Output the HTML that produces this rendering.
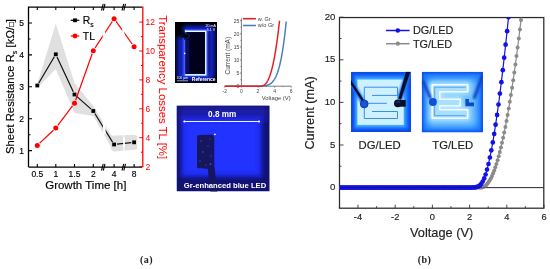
<!DOCTYPE html>
<html><head><meta charset="utf-8"><style>
html,body{margin:0;padding:0;background:#fff;}
svg{display:block;font-family:"Liberation Sans", Arial, sans-serif;}
</style></head><body>
<svg width="550" height="269" viewBox="0 0 550 269">
<defs>
<clipPath id="cpPlot"><rect x="339.6" y="17.4" width="204.4" height="190.8"/></clipPath>
<clipPath id="cpRef"><rect x="175" y="22" width="42" height="61"/></clipPath>
<clipPath id="cpGr"><rect x="176.5" y="105.4" width="93.2" height="86.1"/></clipPath>
<clipPath id="cpDG"><rect x="350.9" y="71.8" width="60.3" height="60.3"/></clipPath>
<clipPath id="cpTG"><rect x="421.7" y="71.7" width="61.3" height="60.8"/></clipPath>
<filter id="b05" x="-20%" y="-20%" width="140%" height="140%"><feGaussianBlur stdDeviation="0.5"/></filter>
<filter id="b15" x="-20%" y="-20%" width="140%" height="140%"><feGaussianBlur stdDeviation="1.5"/></filter>
<filter id="b1" x="-20%" y="-20%" width="140%" height="140%"><feGaussianBlur stdDeviation="1"/></filter>
<filter id="b2" x="-20%" y="-20%" width="140%" height="140%"><feGaussianBlur stdDeviation="2"/></filter>
<filter id="b3" x="-30%" y="-30%" width="160%" height="160%"><feGaussianBlur stdDeviation="3"/></filter>
<radialGradient id="glow1" cx="0.5" cy="0.5" r="0.6">
<stop offset="0.55" stop-color="#1f3cff"/><stop offset="0.8" stop-color="#0a14c0"/><stop offset="1" stop-color="#000"/>
</radialGradient>
<linearGradient id="blue2" x1="0" y1="0" x2="0" y2="1">
<stop offset="0" stop-color="#1e28c8"/><stop offset="0.15" stop-color="#1e2cf0"/><stop offset="1" stop-color="#1a26ee"/>
</linearGradient>
<radialGradient id="tg" cx="0.5" cy="0.5" r="0.6">
<stop offset="0" stop-color="#a8dcff"/><stop offset="0.6" stop-color="#6ab8ff"/><stop offset="1" stop-color="#2a8cff"/>
</radialGradient>
</defs>
<g clip-path="url(#cpRef)">
<rect x="175" y="22" width="42" height="61" fill="#000"/>
<path d="M183.5,29 H209 Q211.5,29 211.5,33 V74 Q211.5,77 208,77 H183 Q180.5,77 180.5,74 V37" fill="none" stroke="#1428d8" stroke-width="6" filter="url(#b2)"/>
<path d="M184.5,30 H207.3 V75.6 H183.4 V38" fill="none" stroke="#2a40ff" stroke-width="2" filter="url(#b05)"/>
<path d="M186,32.3 H205.3 V74 H185.6 V40" fill="#03031c" filter="url(#b05)"/>
<rect x="185.5" y="40" width="4" height="33" fill="#0a0a60" filter="url(#b1)"/>
<path d="M184.6,33 Q188,33 189.5,36 Q188.5,39 185,39.5" fill="#000" stroke="#2040ff" stroke-width="0.6" filter="url(#b05)"/>
<path d="M185.3,31.3 H205.8 V74.8 H184.7" fill="none" stroke="#e8fcff" stroke-width="1.5"/>
<path d="M185,75 H205.5" stroke="#a8e8ff" stroke-width="1"/>
<path d="M184.7,40 V74.8" stroke="#4868ff" stroke-width="1.2"/>
<circle cx="185.8" cy="31.3" r="1.1" fill="#a0ffff"/>
<circle cx="184.7" cy="53.4" r="0.8" fill="#e0f0ff"/>
<text x="215.8" y="27.1" text-anchor="end" font-size="3.6" fill="#fff">20 mA</text>
<text x="215.2" y="31.1" text-anchor="end" font-size="3.6" fill="#fff">5.1 V</text>
<text x="176.6" y="79.4" font-size="3.4" fill="#fff">100 µm</text>
<path d="M176.8,80.8 H188" stroke="#fff" stroke-width="0.6"/>
<text x="215.5" y="81.3" text-anchor="end" font-size="4.9" font-weight="bold" fill="#fff">Reference</text>
</g>
<g clip-path="url(#cpGr)">
<rect x="176.5" y="105.4" width="93.2" height="86.1" fill="#121274"/>
<rect x="179" y="107" width="88" height="14" fill="#1a1aa8" filter="url(#b3)"/>
<rect x="181" y="117" width="81" height="60" fill="#1e2ae8" filter="url(#b2)"/>
<rect x="185" y="121" width="73" height="52" fill="#2232ff" filter="url(#b2)"/>
<path d="M197,137 Q197,135 199,135 L212,134.8 Q214.2,135 214.2,137 L214.2,167 L211,169 L209.5,169 L197,168 Z" fill="#16165e" filter="url(#b05)"/>
<g fill="#2a2ab0" opacity="0.8" filter="url(#b05)"><circle cx="201" cy="141" r="1.2"/><circle cx="208" cy="146" r="1"/><circle cx="203" cy="152" r="1.3"/><circle cx="211" cy="156" r="1"/><circle cx="200" cy="161" r="1.1"/><circle cx="206" cy="165" r="1"/><circle cx="210" cy="139" r="0.9"/></g>
<path d="M207.5,167 L214.5,167 L217.5,192 L210.5,192 Z" fill="#161660" filter="url(#b05)"/>
<circle cx="210.5" cy="164.2" r="0.9" fill="#3a4aff"/>
<path d="M184.2,121.5 H259" stroke="#f4f4ff" stroke-width="1"/>
<circle cx="184.4" cy="121.5" r="1.1" fill="#fff"/>
<circle cx="259" cy="121.5" r="1.1" fill="#fff"/>
<circle cx="214.9" cy="134.3" r="0.9" fill="#fff"/>
<text x="222.2" y="116.8" text-anchor="middle" font-size="8.2" font-weight="bold" fill="#fff">0.8 mm</text>
<text x="225" y="188" text-anchor="middle" font-size="7.65" font-weight="bold" fill="#fff">Gr-enhanced blue LED</text>
</g>
<g clip-path="url(#cpDG)">
<rect x="350.9" y="71.8" width="60.3" height="60.3" fill="#0c4ae8"/>
<rect x="353.9" y="74.8" width="54.3" height="54.3" fill="#1a78ff" filter="url(#b1)"/>
<rect x="355.9" y="77.8" width="49.3" height="48.8" fill="#48b4ff" filter="url(#b1)"/>
<rect x="357.4" y="79.6" width="46.3" height="45.3" fill="#cdf1ff" filter="url(#b05)"/>
<path d="M397.5,95.4 V87.2 H364.3 V118.5 H397.5 V111.5 M372.0,95.4 H397.5 M367.9,103.3 H386.9 M372.0,111.5 H397.5" fill="none" stroke="#3a8cf0" stroke-width="1"/>
<path d="M350.9,81.8 L362.9,101.8" stroke="#1a6cf0" stroke-width="5" filter="url(#b1)"/>
<path d="M350.9,79.8 L350.9,84.3 L362.4,101.8 L363.9,100.3 Z" fill="#061030" filter="url(#b05)"/>
<path d="M408.9,71.8 L399.4,99.8" stroke="#1a6cf0" stroke-width="6" filter="url(#b1)"/>
<path d="M405.9,71.8 L410.4,71.8 L400.9,99.8 L398.4,98.8 Z" fill="#061030" filter="url(#b05)"/>
<circle cx="364.2" cy="103.9" r="3.9" fill="#1458d8" stroke="#0a2a80" stroke-width="0.8"/>
<circle cx="397.79999999999995" cy="103.4" r="3.8" fill="#081028"/>
<rect x="397.4" y="100.0" width="8.3" height="6.7" fill="#081028"/>
<path d="M396.4,102.8 q2,-2.5 4,0" fill="none" stroke="#1a5ad8" stroke-width="0.8"/>
</g>
<g clip-path="url(#cpTG)">
<rect x="421.7" y="71.7" width="61.3" height="60.8" fill="#0c50f0"/>
<rect x="423.7" y="73.7" width="57.3" height="56.8" fill="#1a7cff" filter="url(#b1)"/>
<rect x="428.7" y="79.7" width="47.3" height="45.8" fill="#58b4ff" filter="url(#b3)"/>
<rect x="427.7" y="80.7" width="47.3" height="44.8" fill="#6cc0ff" filter="url(#b3)"/>
<polygon points="432.2,84.7 467.7,84.7 467.7,91.7 439.7,91.7 439.7,99.2 460.2,99.2 460.2,105.7 439.7,105.7 439.7,109.7 467.7,109.7 467.7,118.2 432.2,118.2" fill="none" stroke="#b8e6ff" stroke-width="5" stroke-linejoin="round" filter="url(#b2)"/>
<polygon points="432.2,84.7 467.7,84.7 467.7,91.7 439.7,91.7 439.7,99.2 460.2,99.2 460.2,105.7 439.7,105.7 439.7,109.7 467.7,109.7 467.7,118.2 432.2,118.2" fill="#a8e0ff" stroke="#f4feff" stroke-width="1.6" stroke-linejoin="round" filter="url(#b05)"/>
<path d="M465.7,87.2 H434.7 V115.7 H465.7" fill="none" stroke="#4a9cf0" stroke-width="0.9" filter="url(#b05)"/>
<path d="M422.7,80.7 L430.7,98.7" stroke="#1040c0" stroke-width="3" filter="url(#b1)"/>
<path d="M483.0,74.7 L474.0,98.7" stroke="#1040c0" stroke-width="3" filter="url(#b1)"/>
<circle cx="432.9" cy="102.1" r="4" fill="#1050d8"/>
<path d="M465.4,99.0 h3.5 v3.5 h5.1 v3.8 h-8.6 z" fill="#1048c8"/>
</g>
<polygon points="37.3,84.0 55.8,23.5 74.5,83.0 93.3,106.0 110.5,134.0 112.5,135.8 134.5,134.8 137.3,136.0 137.3,149.6 134.5,149.8 114.0,151.6 111.5,150.0 110.5,146.0 93.3,116.0 74.5,113.0 55.8,69.0 37.3,88.0" fill="#e0e0e0"/>
<polygon points="103,118 104.6,118 105.2,134 103.6,134" fill="#fff"/>
<polygon points="123.4,130 124.5,130 124.5,155 123.4,155" fill="#fff"/>
<path d="M38.78,83.03 L54.32,56.76 M57.02,56.89 L73.28,91.83 M76.67,96.37 L91.13,109.13 M94.83,113.51 L112.57,142.08 M116.98,144.22 L131.22,142.63" fill="none" stroke="#111" stroke-width="1.2"/>
<path d="M39.71,143.10 L53.39,130.28 M57.79,125.39 L72.51,105.94 M75.61,100.20 L92.19,53.82 M95.10,47.95 L112.30,21.54 M116.02,21.46 L132.18,43.98" fill="none" stroke="#f00" stroke-width="1.2"/>
<polygon points="102.6,120 105,120 105.8,134 103.4,134" fill="#fff"/>
<polygon points="123.1,138 124.9,138 124.9,147 123.1,147" fill="#fff"/>
<polygon points="102.4,26 104.9,26 105.4,40 102.9,40" fill="#fff"/>
<polygon points="122,24 124.2,24 124.6,38 122.4,38" fill="#fff"/>
<rect x="35.4" y="83.6" width="3.8" height="3.8" fill="#000"/>
<rect x="53.9" y="52.4" width="3.8" height="3.8" fill="#000"/>
<rect x="72.6" y="92.6" width="3.8" height="3.8" fill="#000"/>
<rect x="91.4" y="109.1" width="3.8" height="3.8" fill="#000"/>
<rect x="112.2" y="142.6" width="3.8" height="3.8" fill="#000"/>
<rect x="132.2" y="140.4" width="3.8" height="3.8" fill="#000"/>
<circle cx="37.3" cy="145.4" r="2.5" fill="#f00"/>
<circle cx="55.8" cy="128.0" r="2.5" fill="#f00"/>
<circle cx="74.5" cy="103.3" r="2.5" fill="#f00"/>
<circle cx="93.3" cy="50.7" r="2.5" fill="#f00"/>
<circle cx="114.1" cy="18.8" r="2.5" fill="#f00"/>
<circle cx="134.1" cy="46.7" r="2.5" fill="#f00"/>
<path d="M28.5,167.1 V7.1 H142.3 M28.5,167.1 H142.3" fill="none" stroke="#000" stroke-width="1.3"/>
<path d="M142.8,6.5 V167.1" stroke="#f00" stroke-width="1.3"/>
<path d="M37.3,167.1 v-3 M37.3,7.1 v3 M55.8,167.1 v-3 M55.8,7.1 v3 M74.5,167.1 v-3 M74.5,7.1 v3 M93.3,167.1 v-3 M93.3,7.1 v3 M114.1,167.1 v-3 M114.1,7.1 v3 M134.1,167.1 v-3 M134.1,7.1 v3" stroke="#000" stroke-width="1.1"/>
<path d="M28.5,150.6 h3.5 M28.5,134.7 h2 M28.5,118.7 h3.5 M28.5,102.8 h2 M28.5,86.8 h3.5 M28.5,70.8 h2 M28.5,54.9 h3.5 M28.5,39.0 h2 M28.5,23.0 h3.5" stroke="#000" stroke-width="1.1"/>
<path d="M142.8,166.6 h-3.5 M142.8,152.2 h-2 M142.8,137.7 h-3.5 M142.8,123.2 h-2 M142.8,108.8 h-3.5 M142.8,94.3 h-2 M142.8,79.9 h-3.5 M142.8,65.5 h-2 M142.8,51.0 h-3.5 M142.8,36.6 h-2 M142.8,22.1 h-3.5" stroke="#f00" stroke-width="1"/>
<path d="M101.5,10.5 l1.7,-6.6 M103.3,10.5 l1.7,-6.6" stroke="#000" stroke-width="1.1"/>
<path d="M101.5,170.5 l1.7,-6.6 M103.3,170.5 l1.7,-6.6" stroke="#000" stroke-width="1.1"/>
<path d="M122.0,10.5 l1.7,-6.6 M123.8,10.5 l1.7,-6.6" stroke="#000" stroke-width="1.1"/>
<path d="M122.0,170.5 l1.7,-6.6 M123.8,170.5 l1.7,-6.6" stroke="#000" stroke-width="1.1"/>
<text x="24" y="153.6" text-anchor="end" font-size="8.5" stroke="#000" stroke-width="0.15">1</text>
<text x="24" y="121.7" text-anchor="end" font-size="8.5" stroke="#000" stroke-width="0.15">2</text>
<text x="24" y="89.8" text-anchor="end" font-size="8.5" stroke="#000" stroke-width="0.15">3</text>
<text x="24" y="57.9" text-anchor="end" font-size="8.5" stroke="#000" stroke-width="0.15">4</text>
<text x="24" y="26.0" text-anchor="end" font-size="8.5" stroke="#000" stroke-width="0.15">5</text>
<text x="145.5" y="169.6" font-size="8.5" fill="#f00">2</text>
<text x="145.5" y="140.7" font-size="8.5" fill="#f00">4</text>
<text x="145.5" y="111.8" font-size="8.5" fill="#f00">6</text>
<text x="145.5" y="82.9" font-size="8.5" fill="#f00">8</text>
<text x="145.5" y="54.0" font-size="8.5" fill="#f00">10</text>
<text x="145.5" y="25.1" font-size="8.5" fill="#f00">12</text>
<text x="37.3" y="177.3" text-anchor="middle" font-size="8.5" stroke="#000" stroke-width="0.15">0.5</text>
<text x="55.8" y="177.3" text-anchor="middle" font-size="8.5" stroke="#000" stroke-width="0.15">1</text>
<text x="74.5" y="177.3" text-anchor="middle" font-size="8.5" stroke="#000" stroke-width="0.15">1.5</text>
<text x="93.3" y="177.3" text-anchor="middle" font-size="8.5" stroke="#000" stroke-width="0.15">2</text>
<text x="114.1" y="177.3" text-anchor="middle" font-size="8.5" stroke="#000" stroke-width="0.15">4</text>
<text x="134.1" y="177.3" text-anchor="middle" font-size="8.5" stroke="#000" stroke-width="0.15">8</text>
<text x="85.8" y="188.5" text-anchor="middle" font-size="11.5" stroke="#000" stroke-width="0.15">Growth Time [h]</text>
<text transform="translate(14.3,86.5) rotate(-90)" text-anchor="middle" font-size="11.3" stroke="#000" stroke-width="0.15">Sheet Resistance R<tspan font-size="7.2" dy="2.6">s</tspan><tspan dy="-2.6"> [kΩ/<tspan font-size="8">□</tspan>]</tspan></text>
<text transform="translate(159.4,87.2) rotate(90)" text-anchor="middle" font-size="11.4" fill="#f00">Transparency Losses TL [%]</text>
<path d="M70.7,20.3 H79.3" stroke="#000" stroke-width="1.2"/><rect x="73.1" y="18.4" width="3.8" height="3.8"/>
<text x="82.8" y="24" font-size="10.4" stroke="#000" stroke-width="0.15">R<tspan font-size="6.8" dy="2.6">s</tspan></text>
<path d="M70.7,36 H79.3" stroke="#f00" stroke-width="1.2"/><circle cx="75" cy="36" r="2.4" fill="#f00"/>
<text x="82.8" y="39.8" font-size="10.4" stroke="#000" stroke-width="0.15">TL</text>
<path d="M224.8,86.2 H291.2 M241.4,86.2 V18.3" stroke="#444" stroke-width="0.7" fill="none"/>
<path d="M241.4,86.2 h-1.5 M241.4,73.1 h-1.5 M241.4,60.0 h-1.5 M241.4,46.9 h-1.5 M241.4,33.8 h-1.5 M241.4,20.7 h-1.5 M241.4,79.7 h-0.9 M241.4,66.5 h-0.9 M241.4,53.5 h-0.9 M241.4,40.4 h-0.9 M241.4,27.2 h-0.9 M224.8,86.2 v1.5 M241.4,86.2 v1.5 M258.0,86.2 v1.5 M274.6,86.2 v1.5 M291.2,86.2 v1.5 M233.1,86.2 v0.9 M249.7,86.2 v0.9 M266.3,86.2 v0.9 M282.9,86.2 v0.9" stroke="#444" stroke-width="0.6"/>
<text x="239.2" y="88.0" text-anchor="end" font-size="5" fill="#444">0</text>
<text x="239.2" y="74.9" text-anchor="end" font-size="5" fill="#444">5</text>
<text x="239.2" y="61.8" text-anchor="end" font-size="5" fill="#444">10</text>
<text x="239.2" y="48.7" text-anchor="end" font-size="5" fill="#444">15</text>
<text x="239.2" y="35.6" text-anchor="end" font-size="5" fill="#444">20</text>
<text x="239.2" y="22.5" text-anchor="end" font-size="5" fill="#444">25</text>
<text x="224.8" y="92.5" text-anchor="middle" font-size="5" fill="#444">-2</text>
<text x="241.4" y="92.5" text-anchor="middle" font-size="5" fill="#444">0</text>
<text x="258.0" y="92.5" text-anchor="middle" font-size="5" fill="#444">2</text>
<text x="274.6" y="92.5" text-anchor="middle" font-size="5" fill="#444">4</text>
<text x="291.2" y="92.5" text-anchor="middle" font-size="5" fill="#444">6</text>
<text x="276.2" y="100.3" text-anchor="middle" font-size="5.85" fill="#444">Voltage (V)</text>
<text transform="translate(229.7,55.7) rotate(-90)" text-anchor="middle" font-size="6.5" fill="#444">Current (mA)</text>
<polyline points="224.80,86.20 224.97,86.20 225.13,86.20 225.30,86.20 225.47,86.20 225.63,86.20 225.80,86.20 225.96,86.20 226.13,86.20 226.30,86.20 226.46,86.20 226.63,86.20 226.80,86.20 226.96,86.20 227.13,86.20 227.30,86.20 227.46,86.20 227.63,86.20 227.80,86.20 227.96,86.20 228.13,86.20 228.29,86.20 228.46,86.20 228.63,86.20 228.79,86.20 228.96,86.20 229.13,86.20 229.29,86.20 229.46,86.20 229.63,86.20 229.79,86.20 229.96,86.20 230.13,86.20 230.29,86.20 230.46,86.20 230.62,86.20 230.79,86.20 230.96,86.20 231.12,86.20 231.29,86.20 231.46,86.20 231.62,86.20 231.79,86.20 231.96,86.20 232.12,86.20 232.29,86.20 232.46,86.20 232.62,86.20 232.79,86.20 232.95,86.20 233.12,86.20 233.29,86.20 233.45,86.20 233.62,86.20 233.79,86.20 233.95,86.20 234.12,86.20 234.29,86.20 234.45,86.20 234.62,86.20 234.78,86.20 234.95,86.20 235.12,86.20 235.28,86.20 235.45,86.20 235.62,86.20 235.78,86.20 235.95,86.20 236.12,86.20 236.28,86.20 236.45,86.20 236.62,86.20 236.78,86.20 236.95,86.20 237.11,86.20 237.28,86.20 237.45,86.20 237.61,86.20 237.78,86.20 237.95,86.20 238.11,86.20 238.28,86.20 238.45,86.20 238.61,86.20 238.78,86.20 238.95,86.20 239.11,86.20 239.28,86.20 239.44,86.20 239.61,86.20 239.78,86.20 239.94,86.20 240.11,86.20 240.28,86.20 240.44,86.20 240.61,86.20 240.78,86.20 240.94,86.20 241.11,86.20 241.28,86.20 241.44,86.20 241.61,86.20 241.77,86.20 241.94,86.20 242.11,86.20 242.27,86.20 242.44,86.20 242.61,86.20 242.77,86.20 242.94,86.20 243.11,86.20 243.27,86.20 243.44,86.20 243.61,86.20 243.77,86.20 243.94,86.20 244.10,86.20 244.27,86.20 244.44,86.20 244.60,86.20 244.77,86.20 244.94,86.20 245.10,86.20 245.27,86.20 245.44,86.20 245.60,86.20 245.77,86.20 245.93,86.20 246.10,86.20 246.27,86.20 246.43,86.20 246.60,86.20 246.77,86.20 246.93,86.20 247.10,86.20 247.27,86.20 247.43,86.20 247.60,86.20 247.77,86.20 247.93,86.20 248.10,86.20 248.26,86.20 248.43,86.20 248.60,86.20 248.76,86.20 248.93,86.20 249.10,86.20 249.26,86.20 249.43,86.20 249.60,86.20 249.76,86.20 249.93,86.20 250.10,86.20 250.26,86.20 250.43,86.20 250.59,86.20 250.76,86.20 250.93,86.20 251.09,86.20 251.26,86.20 251.43,86.20 251.59,86.20 251.76,86.20 251.93,86.20 252.09,86.20 252.26,86.20 252.43,86.20 252.59,86.20 252.76,86.20 252.92,86.20 253.09,86.20 253.26,86.20 253.42,86.20 253.59,86.20 253.76,86.20 253.92,86.20 254.09,86.20 254.26,86.20 254.42,86.20 254.59,86.20 254.75,86.20 254.92,86.20 255.09,86.20 255.25,86.20 255.42,86.20 255.59,86.20 255.75,86.20 255.92,86.20 256.09,86.20 256.25,86.20 256.42,86.20 256.59,86.20 256.75,86.20 256.92,86.20 257.08,86.19 257.25,86.19 257.42,86.19 257.58,86.19 257.75,86.19 257.92,86.19 258.08,86.19 258.25,86.19 258.42,86.19 258.58,86.18 258.75,86.18 258.92,86.18 259.08,86.18 259.25,86.17 259.41,86.17 259.58,86.17 259.75,86.17 259.91,86.16 260.08,86.16 260.25,86.15 260.41,86.15 260.58,86.14 260.75,86.14 260.91,86.13 261.08,86.13 261.25,86.12 261.41,86.11 261.58,86.10 261.74,86.10 261.91,86.09 262.08,86.08 262.24,86.07 262.41,86.06 262.58,86.05 262.74,86.03 262.91,86.02 263.08,86.01 263.24,85.99 263.41,85.98 263.57,85.96 263.74,85.94 263.91,85.93 264.07,85.91 264.24,85.89 264.41,85.86 264.57,85.84 264.74,85.82 264.91,85.79 265.07,85.76 265.24,85.73 265.41,85.70 265.57,85.67 265.74,85.64 265.90,85.60 266.07,85.57 266.24,85.53 266.40,85.49 266.57,85.45 266.74,85.40 266.90,85.36 267.07,85.31 267.24,85.26 267.40,85.20 267.57,85.15 267.74,85.09 267.90,85.03 268.07,84.96 268.23,84.90 268.40,84.83 268.57,84.75 268.73,84.68 268.90,84.60 269.07,84.52 269.23,84.43 269.40,84.34 269.57,84.25 269.73,84.15 269.90,84.05 270.07,83.95 270.23,83.84 270.40,83.72 270.56,83.61 270.73,83.48 270.90,83.36 271.06,83.23 271.23,83.09 271.40,82.95 271.56,82.80 271.73,82.65 271.90,82.49 272.06,82.33 272.23,82.16 272.39,81.98 272.56,81.80 272.73,81.61 272.89,81.42 273.06,81.21 273.23,81.00 273.39,80.79 273.56,80.57 273.73,80.34 273.89,80.10 274.06,79.85 274.23,79.60 274.39,79.33 274.56,79.06 274.72,78.78 274.89,78.49 275.06,78.20 275.22,77.89 275.39,77.57 275.56,77.25 275.72,76.91 275.89,76.56 276.06,76.20 276.22,75.83 276.39,75.46 276.56,75.06 276.72,74.66 276.89,74.25 277.05,73.82 277.22,73.38 277.39,72.93 277.55,72.46 277.72,71.99 277.89,71.49 278.05,70.99 278.22,70.47 278.39,69.93 278.55,69.38 278.72,68.82 278.89,68.24 279.05,67.64 279.22,67.03 279.38,66.40 279.55,65.76 279.72,65.10 279.88,64.42 280.05,63.72 280.22,63.00 280.38,62.27 280.55,61.51 280.72,60.74 280.88,59.95 281.05,59.14 281.22,58.30 281.38,57.45 281.55,56.57 281.71,55.68 281.88,54.76 282.05,53.81 282.21,52.85 282.38,51.86 282.55,50.85 282.71,49.81 282.88,48.75 283.05,47.66 283.21,46.54 283.38,45.40 283.54,44.24 283.71,43.04 283.88,41.82 284.04,40.57 284.21,39.29 284.38,37.99 284.54,36.65 284.71,35.28 284.88,33.88 285.04,32.45 285.21,30.99 285.38,29.49 285.54,27.97 285.71,26.40 285.87,24.81 286.04,23.18 286.21,21.51" fill="none" stroke="#4a7fc0" stroke-width="1.5"/>
<polyline points="224.80,86.20 224.97,86.20 225.13,86.20 225.30,86.20 225.47,86.20 225.63,86.20 225.80,86.20 225.96,86.20 226.13,86.20 226.30,86.20 226.46,86.20 226.63,86.20 226.80,86.20 226.96,86.20 227.13,86.20 227.30,86.20 227.46,86.20 227.63,86.20 227.80,86.20 227.96,86.20 228.13,86.20 228.29,86.20 228.46,86.20 228.63,86.20 228.79,86.20 228.96,86.20 229.13,86.20 229.29,86.20 229.46,86.20 229.63,86.20 229.79,86.20 229.96,86.20 230.13,86.20 230.29,86.20 230.46,86.20 230.62,86.20 230.79,86.20 230.96,86.20 231.12,86.20 231.29,86.20 231.46,86.20 231.62,86.20 231.79,86.20 231.96,86.20 232.12,86.20 232.29,86.20 232.46,86.20 232.62,86.20 232.79,86.20 232.95,86.20 233.12,86.20 233.29,86.20 233.45,86.20 233.62,86.20 233.79,86.20 233.95,86.20 234.12,86.20 234.29,86.20 234.45,86.20 234.62,86.20 234.78,86.20 234.95,86.20 235.12,86.20 235.28,86.20 235.45,86.20 235.62,86.20 235.78,86.20 235.95,86.20 236.12,86.20 236.28,86.20 236.45,86.20 236.62,86.20 236.78,86.20 236.95,86.20 237.11,86.20 237.28,86.20 237.45,86.20 237.61,86.20 237.78,86.20 237.95,86.20 238.11,86.20 238.28,86.20 238.45,86.20 238.61,86.20 238.78,86.20 238.95,86.20 239.11,86.20 239.28,86.20 239.44,86.20 239.61,86.20 239.78,86.20 239.94,86.20 240.11,86.20 240.28,86.20 240.44,86.20 240.61,86.20 240.78,86.20 240.94,86.20 241.11,86.20 241.28,86.20 241.44,86.20 241.61,86.20 241.77,86.20 241.94,86.20 242.11,86.20 242.27,86.20 242.44,86.20 242.61,86.20 242.77,86.20 242.94,86.20 243.11,86.20 243.27,86.20 243.44,86.20 243.61,86.20 243.77,86.20 243.94,86.20 244.10,86.20 244.27,86.20 244.44,86.20 244.60,86.20 244.77,86.20 244.94,86.20 245.10,86.20 245.27,86.20 245.44,86.20 245.60,86.20 245.77,86.20 245.93,86.20 246.10,86.20 246.27,86.20 246.43,86.20 246.60,86.20 246.77,86.20 246.93,86.20 247.10,86.20 247.27,86.20 247.43,86.20 247.60,86.20 247.77,86.20 247.93,86.20 248.10,86.20 248.26,86.20 248.43,86.20 248.60,86.20 248.76,86.20 248.93,86.20 249.10,86.20 249.26,86.20 249.43,86.20 249.60,86.20 249.76,86.20 249.93,86.20 250.10,86.20 250.26,86.20 250.43,86.20 250.59,86.20 250.76,86.20 250.93,86.20 251.09,86.20 251.26,86.20 251.43,86.20 251.59,86.20 251.76,86.20 251.93,86.20 252.09,86.20 252.26,86.20 252.43,86.20 252.59,86.20 252.76,86.20 252.92,86.20 253.09,86.20 253.26,86.20 253.42,86.20 253.59,86.20 253.76,86.20 253.92,86.20 254.09,86.20 254.26,86.20 254.42,86.20 254.59,86.20 254.75,86.20 254.92,86.20 255.09,86.20 255.25,86.20 255.42,86.20 255.59,86.20 255.75,86.20 255.92,86.20 256.09,86.20 256.25,86.20 256.42,86.20 256.59,86.20 256.75,86.20 256.92,86.20 257.08,86.20 257.25,86.20 257.42,86.20 257.58,86.20 257.75,86.20 257.92,86.20 258.08,86.20 258.25,86.20 258.42,86.20 258.58,86.20 258.75,86.20 258.92,86.20 259.08,86.20 259.25,86.20 259.41,86.20 259.58,86.20 259.75,86.20 259.91,86.20 260.08,86.19 260.25,86.19 260.41,86.18 260.58,86.17 260.75,86.16 260.91,86.15 261.08,86.13 261.25,86.11 261.41,86.09 261.58,86.06 261.74,86.03 261.91,86.00 262.08,85.96 262.24,85.91 262.41,85.86 262.58,85.81 262.74,85.75 262.91,85.69 263.08,85.62 263.24,85.54 263.41,85.46 263.57,85.38 263.74,85.28 263.91,85.18 264.07,85.07 264.24,84.96 264.41,84.84 264.57,84.71 264.74,84.57 264.91,84.43 265.07,84.28 265.24,84.11 265.41,83.95 265.57,83.77 265.74,83.58 265.90,83.39 266.07,83.18 266.24,82.97 266.40,82.75 266.57,82.51 266.74,82.27 266.90,82.02 267.07,81.76 267.24,81.48 267.40,81.20 267.57,80.91 267.74,80.60 267.90,80.29 268.07,79.96 268.23,79.62 268.40,79.27 268.57,78.91 268.73,78.53 268.90,78.15 269.07,77.75 269.23,77.34 269.40,76.91 269.57,76.48 269.73,76.03 269.90,75.56 270.07,75.09 270.23,74.60 270.40,74.10 270.56,73.58 270.73,73.05 270.90,72.50 271.06,71.94 271.23,71.37 271.40,70.78 271.56,70.18 271.73,69.56 271.90,68.93 272.06,68.28 272.23,67.62 272.39,66.94 272.56,66.24 272.73,65.53 272.89,64.80 273.06,64.06 273.23,63.30 273.39,62.52 273.56,61.73 273.73,60.92 273.89,60.09 274.06,59.25 274.23,58.39 274.39,57.51 274.56,56.61 274.72,55.70 274.89,54.77 275.06,53.81 275.22,52.85 275.39,51.86 275.56,50.85 275.72,49.83 275.89,48.78 276.06,47.72 276.22,46.64 276.39,45.54 276.56,44.42 276.72,43.28 276.89,42.12 277.05,40.94 277.22,39.74 277.39,38.52 277.55,37.28 277.72,36.02 277.89,34.73 278.05,33.43 278.22,32.11 278.39,30.76 278.55,29.40 278.72,28.01 278.89,26.60 279.05,25.17 279.22,23.71 279.38,22.24 279.55,20.74" fill="none" stroke="#e2222a" stroke-width="1.5"/>
<path d="M243,18.7 H256" stroke="#e2222a" stroke-width="1.6"/><path d="M243,25.5 H256" stroke="#4a7fc0" stroke-width="1.6"/>
<text x="257.8" y="20.6" font-size="5.5" fill="#444">w. Gr</text>
<text x="257.8" y="27.4" font-size="5.5" fill="#444">w/o Gr</text>
<rect x="339.5" y="17.55" width="204.29999999999995" height="190.64999999999998" fill="none" stroke="#2a2a2a" stroke-width="1.25"/>
<path d="M339.5,187.6 H543.8" stroke="#333" stroke-width="0.9"/>
<path d="M358.0,208.2 v-3.5 M395.2,208.2 v-3.5 M432.4,208.2 v-3.5 M469.6,208.2 v-3.5 M506.8,208.2 v-3.5 M544.0,208.2 v-3.5 M339.4,208.2 v-2 M376.6,208.2 v-2 M413.8,208.2 v-2 M451.0,208.2 v-2 M488.2,208.2 v-2 M525.4,208.2 v-2 M339.5,187.6 h4 M339.5,145.0 h4 M339.5,102.4 h4 M339.5,59.8 h4 M339.5,17.2 h4 M339.5,166.3 h2 M339.5,123.7 h2 M339.5,81.1 h2 M339.5,38.5 h2" stroke="#333" stroke-width="0.9"/>
<text x="335.3" y="190.1" text-anchor="end" font-size="9.6" fill="#222" stroke="#222" stroke-width="0.15">0</text>
<text x="335.3" y="147.5" text-anchor="end" font-size="9.6" fill="#222" stroke="#222" stroke-width="0.15">5</text>
<text x="335.3" y="104.9" text-anchor="end" font-size="9.6" fill="#222" stroke="#222" stroke-width="0.15">10</text>
<text x="335.3" y="62.3" text-anchor="end" font-size="9.6" fill="#222" stroke="#222" stroke-width="0.15">15</text>
<text x="335.3" y="19.7" text-anchor="end" font-size="9.6" fill="#222" stroke="#222" stroke-width="0.15">20</text>
<text x="358.0" y="220.2" text-anchor="middle" font-size="9.3" fill="#222" stroke="#222" stroke-width="0.15">-4</text>
<text x="395.2" y="220.2" text-anchor="middle" font-size="9.3" fill="#222" stroke="#222" stroke-width="0.15">-2</text>
<text x="432.4" y="220.2" text-anchor="middle" font-size="9.3" fill="#222" stroke="#222" stroke-width="0.15">0</text>
<text x="469.6" y="220.2" text-anchor="middle" font-size="9.3" fill="#222" stroke="#222" stroke-width="0.15">2</text>
<text x="506.8" y="220.2" text-anchor="middle" font-size="9.3" fill="#222" stroke="#222" stroke-width="0.15">4</text>
<text x="544.0" y="220.2" text-anchor="middle" font-size="9.3" fill="#222" stroke="#222" stroke-width="0.15">6</text>
<text x="441.6" y="237" text-anchor="middle" font-size="12.8" fill="#222" stroke="#222" stroke-width="0.15">Voltage (V)</text>
<text transform="translate(313.9,112.9) rotate(-90)" text-anchor="middle" font-size="12.7" fill="#222" stroke="#222" stroke-width="0.15">Current (mA)</text>
<g clip-path="url(#cpPlot)">
<polyline points="340.20,187.60 341.31,187.60 342.43,187.60 343.55,187.60 344.66,187.60 345.78,187.60 346.89,187.60 348.01,187.60 349.13,187.60 350.24,187.60 351.36,187.60 352.47,187.60 353.59,187.60 354.71,187.60 355.82,187.60 356.94,187.60 358.05,187.60 359.17,187.60 360.29,187.60 361.40,187.60 362.52,187.60 363.63,187.60 364.75,187.60 365.87,187.60 366.98,187.60 368.10,187.60 369.21,187.60 370.33,187.60 371.45,187.60 372.56,187.60 373.68,187.60 374.79,187.60 375.91,187.60 377.03,187.60 378.14,187.60 379.26,187.60 380.37,187.60 381.49,187.60 382.61,187.60 383.72,187.60 384.84,187.60 385.95,187.60 387.07,187.60 388.19,187.60 389.30,187.60 390.42,187.60 391.53,187.60 392.65,187.60 393.77,187.60 394.88,187.60 396.00,187.60 397.11,187.60 398.23,187.60 399.35,187.60 400.46,187.60 401.58,187.60 402.69,187.60 403.81,187.60 404.93,187.60 406.04,187.60 407.16,187.60 408.27,187.60 409.39,187.60 410.51,187.60 411.62,187.60 412.74,187.60 413.85,187.60 414.97,187.60 416.09,187.60 417.20,187.60 418.32,187.60 419.43,187.60 420.55,187.60 421.67,187.60 422.78,187.60 423.90,187.60 425.01,187.60 426.13,187.60 427.25,187.60 428.36,187.60 429.48,187.60 430.59,187.60 431.71,187.60 432.83,187.60 433.94,187.60 435.06,187.60 436.17,187.60 437.29,187.60 438.41,187.60 439.52,187.60 440.64,187.60 441.75,187.60 442.87,187.60 443.99,187.60 445.10,187.60 446.22,187.60 447.33,187.60 448.45,187.60 449.57,187.60 450.68,187.60 451.80,187.60 452.91,187.60 454.03,187.60 455.15,187.60 456.26,187.60 457.38,187.60 458.49,187.60 459.61,187.60 460.73,187.60 461.84,187.60 462.96,187.60 464.07,187.60 465.19,187.60 466.31,187.60 467.42,187.60 468.54,187.60 469.65,187.60 470.77,187.60 471.89,187.60 473.00,187.60 474.12,187.60 475.23,187.60 476.35,187.60 477.47,187.60 478.58,187.59 479.70,187.58 480.81,187.52 481.93,187.39 483.05,187.11 484.16,186.62 485.28,185.89 486.39,184.89 487.51,183.63 488.63,182.09 489.74,180.29 490.86,178.22 491.97,175.88 493.09,173.27 494.21,170.40 495.32,167.26 496.44,163.85 497.55,160.17 498.67,156.23 499.79,152.01 500.90,147.52 502.02,142.77 503.13,137.74 504.25,132.43 505.37,126.86 506.48,121.01 507.60,114.89 508.71,108.50 509.83,101.83 510.95,94.89 512.06,87.67 513.18,80.18 514.29,72.41 515.41,64.37 516.53,56.05 517.64,47.46 518.76,38.59 519.87,29.44 520.99,20.01 522.11,10.31" fill="none" stroke="#8a8a8a" stroke-width="1.2"/>
<g fill="#8a8a8a"><circle cx="340.2" cy="187.6" r="2.0"/><circle cx="341.3" cy="187.6" r="2.0"/><circle cx="342.4" cy="187.6" r="2.0"/><circle cx="343.5" cy="187.6" r="2.0"/><circle cx="344.7" cy="187.6" r="2.0"/><circle cx="345.8" cy="187.6" r="2.0"/><circle cx="346.9" cy="187.6" r="2.0"/><circle cx="348.0" cy="187.6" r="2.0"/><circle cx="349.1" cy="187.6" r="2.0"/><circle cx="350.2" cy="187.6" r="2.0"/><circle cx="351.4" cy="187.6" r="2.0"/><circle cx="352.5" cy="187.6" r="2.0"/><circle cx="353.6" cy="187.6" r="2.0"/><circle cx="354.7" cy="187.6" r="2.0"/><circle cx="355.8" cy="187.6" r="2.0"/><circle cx="356.9" cy="187.6" r="2.0"/><circle cx="358.1" cy="187.6" r="2.0"/><circle cx="359.2" cy="187.6" r="2.0"/><circle cx="360.3" cy="187.6" r="2.0"/><circle cx="361.4" cy="187.6" r="2.0"/><circle cx="362.5" cy="187.6" r="2.0"/><circle cx="363.6" cy="187.6" r="2.0"/><circle cx="364.7" cy="187.6" r="2.0"/><circle cx="365.9" cy="187.6" r="2.0"/><circle cx="367.0" cy="187.6" r="2.0"/><circle cx="368.1" cy="187.6" r="2.0"/><circle cx="369.2" cy="187.6" r="2.0"/><circle cx="370.3" cy="187.6" r="2.0"/><circle cx="371.4" cy="187.6" r="2.0"/><circle cx="372.6" cy="187.6" r="2.0"/><circle cx="373.7" cy="187.6" r="2.0"/><circle cx="374.8" cy="187.6" r="2.0"/><circle cx="375.9" cy="187.6" r="2.0"/><circle cx="377.0" cy="187.6" r="2.0"/><circle cx="378.1" cy="187.6" r="2.0"/><circle cx="379.3" cy="187.6" r="2.0"/><circle cx="380.4" cy="187.6" r="2.0"/><circle cx="381.5" cy="187.6" r="2.0"/><circle cx="382.6" cy="187.6" r="2.0"/><circle cx="383.7" cy="187.6" r="2.0"/><circle cx="384.8" cy="187.6" r="2.0"/><circle cx="386.0" cy="187.6" r="2.0"/><circle cx="387.1" cy="187.6" r="2.0"/><circle cx="388.2" cy="187.6" r="2.0"/><circle cx="389.3" cy="187.6" r="2.0"/><circle cx="390.4" cy="187.6" r="2.0"/><circle cx="391.5" cy="187.6" r="2.0"/><circle cx="392.6" cy="187.6" r="2.0"/><circle cx="393.8" cy="187.6" r="2.0"/><circle cx="394.9" cy="187.6" r="2.0"/><circle cx="396.0" cy="187.6" r="2.0"/><circle cx="397.1" cy="187.6" r="2.0"/><circle cx="398.2" cy="187.6" r="2.0"/><circle cx="399.3" cy="187.6" r="2.0"/><circle cx="400.5" cy="187.6" r="2.0"/><circle cx="401.6" cy="187.6" r="2.0"/><circle cx="402.7" cy="187.6" r="2.0"/><circle cx="403.8" cy="187.6" r="2.0"/><circle cx="404.9" cy="187.6" r="2.0"/><circle cx="406.0" cy="187.6" r="2.0"/><circle cx="407.2" cy="187.6" r="2.0"/><circle cx="408.3" cy="187.6" r="2.0"/><circle cx="409.4" cy="187.6" r="2.0"/><circle cx="410.5" cy="187.6" r="2.0"/><circle cx="411.6" cy="187.6" r="2.0"/><circle cx="412.7" cy="187.6" r="2.0"/><circle cx="413.9" cy="187.6" r="2.0"/><circle cx="415.0" cy="187.6" r="2.0"/><circle cx="416.1" cy="187.6" r="2.0"/><circle cx="417.2" cy="187.6" r="2.0"/><circle cx="418.3" cy="187.6" r="2.0"/><circle cx="419.4" cy="187.6" r="2.0"/><circle cx="420.5" cy="187.6" r="2.0"/><circle cx="421.7" cy="187.6" r="2.0"/><circle cx="422.8" cy="187.6" r="2.0"/><circle cx="423.9" cy="187.6" r="2.0"/><circle cx="425.0" cy="187.6" r="2.0"/><circle cx="426.1" cy="187.6" r="2.0"/><circle cx="427.2" cy="187.6" r="2.0"/><circle cx="428.4" cy="187.6" r="2.0"/><circle cx="429.5" cy="187.6" r="2.0"/><circle cx="430.6" cy="187.6" r="2.0"/><circle cx="431.7" cy="187.6" r="2.0"/><circle cx="432.8" cy="187.6" r="2.0"/><circle cx="433.9" cy="187.6" r="2.0"/><circle cx="435.1" cy="187.6" r="2.0"/><circle cx="436.2" cy="187.6" r="2.0"/><circle cx="437.3" cy="187.6" r="2.0"/><circle cx="438.4" cy="187.6" r="2.0"/><circle cx="439.5" cy="187.6" r="2.0"/><circle cx="440.6" cy="187.6" r="2.0"/><circle cx="441.8" cy="187.6" r="2.0"/><circle cx="442.9" cy="187.6" r="2.0"/><circle cx="444.0" cy="187.6" r="2.0"/><circle cx="445.1" cy="187.6" r="2.0"/><circle cx="446.2" cy="187.6" r="2.0"/><circle cx="447.3" cy="187.6" r="2.0"/><circle cx="448.4" cy="187.6" r="2.0"/><circle cx="449.6" cy="187.6" r="2.0"/><circle cx="450.7" cy="187.6" r="2.0"/><circle cx="451.8" cy="187.6" r="2.0"/><circle cx="452.9" cy="187.6" r="2.0"/><circle cx="454.0" cy="187.6" r="2.0"/><circle cx="455.1" cy="187.6" r="2.0"/><circle cx="456.3" cy="187.6" r="2.0"/><circle cx="457.4" cy="187.6" r="2.0"/><circle cx="458.5" cy="187.6" r="2.0"/><circle cx="459.6" cy="187.6" r="2.0"/><circle cx="460.7" cy="187.6" r="2.0"/><circle cx="461.8" cy="187.6" r="2.0"/><circle cx="463.0" cy="187.6" r="2.0"/><circle cx="464.1" cy="187.6" r="2.0"/><circle cx="465.2" cy="187.6" r="2.0"/><circle cx="466.3" cy="187.6" r="2.0"/><circle cx="467.4" cy="187.6" r="2.0"/><circle cx="468.5" cy="187.6" r="2.0"/><circle cx="469.7" cy="187.6" r="2.0"/><circle cx="470.8" cy="187.6" r="2.0"/><circle cx="471.9" cy="187.6" r="2.0"/><circle cx="473.0" cy="187.6" r="2.0"/><circle cx="474.1" cy="187.6" r="2.0"/><circle cx="475.2" cy="187.6" r="2.0"/><circle cx="476.3" cy="187.6" r="2.0"/><circle cx="477.5" cy="187.6" r="2.0"/><circle cx="478.6" cy="187.6" r="2.0"/><circle cx="479.7" cy="187.6" r="2.0"/><circle cx="480.8" cy="187.5" r="2.0"/><circle cx="481.9" cy="187.4" r="2.0"/><circle cx="483.0" cy="187.1" r="2.0"/><circle cx="484.2" cy="186.6" r="2.0"/><circle cx="485.3" cy="185.9" r="2.0"/><circle cx="486.4" cy="184.9" r="2.0"/><circle cx="487.5" cy="183.6" r="2.0"/><circle cx="488.6" cy="182.1" r="2.0"/><circle cx="489.7" cy="180.3" r="2.0"/><circle cx="490.9" cy="178.2" r="2.0"/><circle cx="492.0" cy="175.9" r="2.0"/><circle cx="493.1" cy="173.3" r="2.0"/><circle cx="494.2" cy="170.4" r="2.0"/><circle cx="495.3" cy="167.3" r="2.0"/><circle cx="496.4" cy="163.9" r="2.0"/><circle cx="497.6" cy="160.2" r="2.0"/><circle cx="498.7" cy="156.2" r="2.0"/><circle cx="499.8" cy="152.0" r="2.0"/><circle cx="500.9" cy="147.5" r="2.0"/><circle cx="502.0" cy="142.8" r="2.0"/><circle cx="503.1" cy="137.7" r="2.0"/><circle cx="504.2" cy="132.4" r="2.0"/><circle cx="505.4" cy="126.9" r="2.0"/><circle cx="506.5" cy="121.0" r="2.0"/><circle cx="507.6" cy="114.9" r="2.0"/><circle cx="508.7" cy="108.5" r="2.0"/><circle cx="509.8" cy="101.8" r="2.0"/><circle cx="510.9" cy="94.9" r="2.0"/><circle cx="512.1" cy="87.7" r="2.0"/><circle cx="513.2" cy="80.2" r="2.0"/><circle cx="514.3" cy="72.4" r="2.0"/><circle cx="515.4" cy="64.4" r="2.0"/><circle cx="516.5" cy="56.1" r="2.0"/><circle cx="517.6" cy="47.5" r="2.0"/><circle cx="518.8" cy="38.6" r="2.0"/><circle cx="519.9" cy="29.4" r="2.0"/><circle cx="521.0" cy="20.0" r="2.0"/><circle cx="522.1" cy="10.3" r="2.0"/></g>
<polyline points="339.51,187.60 340.94,187.60 342.38,187.60 343.81,187.60 345.24,187.60 346.67,187.60 348.10,187.60 349.54,187.60 350.97,187.60 352.40,187.60 353.83,187.60 355.27,187.60 356.70,187.60 358.13,187.60 359.56,187.60 360.99,187.60 362.43,187.60 363.86,187.60 365.29,187.60 366.72,187.60 368.16,187.60 369.59,187.60 371.02,187.60 372.45,187.60 373.88,187.60 375.32,187.60 376.75,187.60 378.18,187.60 379.61,187.60 381.05,187.60 382.48,187.60 383.91,187.60 385.34,187.60 386.77,187.60 388.21,187.60 389.64,187.60 391.07,187.60 392.50,187.60 393.94,187.60 395.37,187.60 396.80,187.60 398.23,187.60 399.66,187.60 401.10,187.60 402.53,187.60 403.96,187.60 405.39,187.60 406.83,187.60 408.26,187.60 409.69,187.60 411.12,187.60 412.55,187.60 413.99,187.60 415.42,187.60 416.85,187.60 418.28,187.60 419.71,187.60 421.15,187.60 422.58,187.60 424.01,187.60 425.44,187.60 426.88,187.60 428.31,187.60 429.74,187.60 431.17,187.60 432.60,187.60 434.04,187.60 435.47,187.60 436.90,187.60 438.33,187.60 439.77,187.60 441.20,187.60 442.63,187.60 444.06,187.60 445.49,187.60 446.93,187.60 448.36,187.60 449.79,187.60 451.22,187.60 452.66,187.60 454.09,187.60 455.52,187.60 456.95,187.60 458.38,187.60 459.82,187.60 461.25,187.60 462.68,187.60 464.11,187.60 465.55,187.60 466.98,187.60 468.41,187.59 469.84,187.58 471.27,187.56 472.71,187.52 474.14,187.43 475.57,187.26 477.00,186.94 478.44,186.35 479.87,185.36 481.30,183.80 482.73,181.52 484.16,178.43 485.60,174.46 487.03,169.63 488.46,163.97 489.89,157.52 491.32,150.32 492.76,142.42 494.19,133.87 495.62,124.69 497.05,114.90 498.49,104.54 499.92,93.63 501.35,82.17 502.78,70.18 504.21,57.68 505.65,44.68 507.08,31.18 508.51,17.20 509.94,2.74" fill="none" stroke="#1212e6" stroke-width="1.2"/>
<g fill="#1212e6"><circle cx="339.5" cy="187.6" r="2.35"/><circle cx="340.9" cy="187.6" r="2.35"/><circle cx="342.4" cy="187.6" r="2.35"/><circle cx="343.8" cy="187.6" r="2.35"/><circle cx="345.2" cy="187.6" r="2.35"/><circle cx="346.7" cy="187.6" r="2.35"/><circle cx="348.1" cy="187.6" r="2.35"/><circle cx="349.5" cy="187.6" r="2.35"/><circle cx="351.0" cy="187.6" r="2.35"/><circle cx="352.4" cy="187.6" r="2.35"/><circle cx="353.8" cy="187.6" r="2.35"/><circle cx="355.3" cy="187.6" r="2.35"/><circle cx="356.7" cy="187.6" r="2.35"/><circle cx="358.1" cy="187.6" r="2.35"/><circle cx="359.6" cy="187.6" r="2.35"/><circle cx="361.0" cy="187.6" r="2.35"/><circle cx="362.4" cy="187.6" r="2.35"/><circle cx="363.9" cy="187.6" r="2.35"/><circle cx="365.3" cy="187.6" r="2.35"/><circle cx="366.7" cy="187.6" r="2.35"/><circle cx="368.2" cy="187.6" r="2.35"/><circle cx="369.6" cy="187.6" r="2.35"/><circle cx="371.0" cy="187.6" r="2.35"/><circle cx="372.5" cy="187.6" r="2.35"/><circle cx="373.9" cy="187.6" r="2.35"/><circle cx="375.3" cy="187.6" r="2.35"/><circle cx="376.7" cy="187.6" r="2.35"/><circle cx="378.2" cy="187.6" r="2.35"/><circle cx="379.6" cy="187.6" r="2.35"/><circle cx="381.0" cy="187.6" r="2.35"/><circle cx="382.5" cy="187.6" r="2.35"/><circle cx="383.9" cy="187.6" r="2.35"/><circle cx="385.3" cy="187.6" r="2.35"/><circle cx="386.8" cy="187.6" r="2.35"/><circle cx="388.2" cy="187.6" r="2.35"/><circle cx="389.6" cy="187.6" r="2.35"/><circle cx="391.1" cy="187.6" r="2.35"/><circle cx="392.5" cy="187.6" r="2.35"/><circle cx="393.9" cy="187.6" r="2.35"/><circle cx="395.4" cy="187.6" r="2.35"/><circle cx="396.8" cy="187.6" r="2.35"/><circle cx="398.2" cy="187.6" r="2.35"/><circle cx="399.7" cy="187.6" r="2.35"/><circle cx="401.1" cy="187.6" r="2.35"/><circle cx="402.5" cy="187.6" r="2.35"/><circle cx="404.0" cy="187.6" r="2.35"/><circle cx="405.4" cy="187.6" r="2.35"/><circle cx="406.8" cy="187.6" r="2.35"/><circle cx="408.3" cy="187.6" r="2.35"/><circle cx="409.7" cy="187.6" r="2.35"/><circle cx="411.1" cy="187.6" r="2.35"/><circle cx="412.6" cy="187.6" r="2.35"/><circle cx="414.0" cy="187.6" r="2.35"/><circle cx="415.4" cy="187.6" r="2.35"/><circle cx="416.9" cy="187.6" r="2.35"/><circle cx="418.3" cy="187.6" r="2.35"/><circle cx="419.7" cy="187.6" r="2.35"/><circle cx="421.1" cy="187.6" r="2.35"/><circle cx="422.6" cy="187.6" r="2.35"/><circle cx="424.0" cy="187.6" r="2.35"/><circle cx="425.4" cy="187.6" r="2.35"/><circle cx="426.9" cy="187.6" r="2.35"/><circle cx="428.3" cy="187.6" r="2.35"/><circle cx="429.7" cy="187.6" r="2.35"/><circle cx="431.2" cy="187.6" r="2.35"/><circle cx="432.6" cy="187.6" r="2.35"/><circle cx="434.0" cy="187.6" r="2.35"/><circle cx="435.5" cy="187.6" r="2.35"/><circle cx="436.9" cy="187.6" r="2.35"/><circle cx="438.3" cy="187.6" r="2.35"/><circle cx="439.8" cy="187.6" r="2.35"/><circle cx="441.2" cy="187.6" r="2.35"/><circle cx="442.6" cy="187.6" r="2.35"/><circle cx="444.1" cy="187.6" r="2.35"/><circle cx="445.5" cy="187.6" r="2.35"/><circle cx="446.9" cy="187.6" r="2.35"/><circle cx="448.4" cy="187.6" r="2.35"/><circle cx="449.8" cy="187.6" r="2.35"/><circle cx="451.2" cy="187.6" r="2.35"/><circle cx="452.7" cy="187.6" r="2.35"/><circle cx="454.1" cy="187.6" r="2.35"/><circle cx="455.5" cy="187.6" r="2.35"/><circle cx="457.0" cy="187.6" r="2.35"/><circle cx="458.4" cy="187.6" r="2.35"/><circle cx="459.8" cy="187.6" r="2.35"/><circle cx="461.2" cy="187.6" r="2.35"/><circle cx="462.7" cy="187.6" r="2.35"/><circle cx="464.1" cy="187.6" r="2.35"/><circle cx="465.5" cy="187.6" r="2.35"/><circle cx="467.0" cy="187.6" r="2.35"/><circle cx="468.4" cy="187.6" r="2.35"/><circle cx="469.8" cy="187.6" r="2.35"/><circle cx="471.3" cy="187.6" r="2.35"/><circle cx="472.7" cy="187.5" r="2.35"/><circle cx="474.1" cy="187.4" r="2.35"/><circle cx="475.6" cy="187.3" r="2.35"/><circle cx="477.0" cy="186.9" r="2.35"/><circle cx="478.4" cy="186.4" r="2.35"/><circle cx="479.9" cy="185.4" r="2.35"/><circle cx="481.3" cy="183.8" r="2.35"/><circle cx="482.7" cy="181.5" r="2.35"/><circle cx="484.2" cy="178.4" r="2.35"/><circle cx="485.6" cy="174.5" r="2.35"/><circle cx="487.0" cy="169.6" r="2.35"/><circle cx="488.5" cy="164.0" r="2.35"/><circle cx="489.9" cy="157.5" r="2.35"/><circle cx="491.3" cy="150.3" r="2.35"/><circle cx="492.8" cy="142.4" r="2.35"/><circle cx="494.2" cy="133.9" r="2.35"/><circle cx="495.6" cy="124.7" r="2.35"/><circle cx="497.1" cy="114.9" r="2.35"/><circle cx="498.5" cy="104.5" r="2.35"/><circle cx="499.9" cy="93.6" r="2.35"/><circle cx="501.4" cy="82.2" r="2.35"/><circle cx="502.8" cy="70.2" r="2.35"/><circle cx="504.2" cy="57.7" r="2.35"/><circle cx="505.6" cy="44.7" r="2.35"/><circle cx="507.1" cy="31.2" r="2.35"/><circle cx="508.5" cy="17.2" r="2.35"/><circle cx="509.9" cy="2.7" r="2.35"/></g>
<path d="M339.5,187.6 H543.8" stroke="#101040" stroke-width="0.8" opacity="0.5"/>
</g>
<path d="M386,30.5 H409.6" stroke="#1212e6" stroke-width="1.5"/><circle cx="397.8" cy="30.5" r="2.3" fill="#1212e6"/>
<path d="M386,43.7 H409.6" stroke="#8a8a8a" stroke-width="1.5"/><circle cx="397.8" cy="43.7" r="2.1" fill="#8a8a8a"/>
<text x="412.9" y="33.9" font-size="10.9" fill="#222" stroke="#222" stroke-width="0.15">DG/LED</text>
<text x="412.9" y="47.5" font-size="10.9" fill="#222" stroke="#222" stroke-width="0.15">TG/LED</text>
<text x="379.6" y="149.4" text-anchor="middle" font-size="11.3" fill="#222" stroke="#222" stroke-width="0.15">DG/LED</text>
<text x="452.7" y="149.4" text-anchor="middle" font-size="11.3" fill="#222" stroke="#222" stroke-width="0.15">TG/LED</text>
<text x="146.6" y="263.3" text-anchor="middle" font-family="Liberation Serif, serif" font-weight="bold" font-size="10" letter-spacing="0.5" fill="#222">(a)</text>
<text x="424.6" y="263" text-anchor="middle" font-family="Liberation Serif, serif" font-weight="bold" font-size="10" letter-spacing="0.5" fill="#222">(b)</text>
</svg>
</body></html>
